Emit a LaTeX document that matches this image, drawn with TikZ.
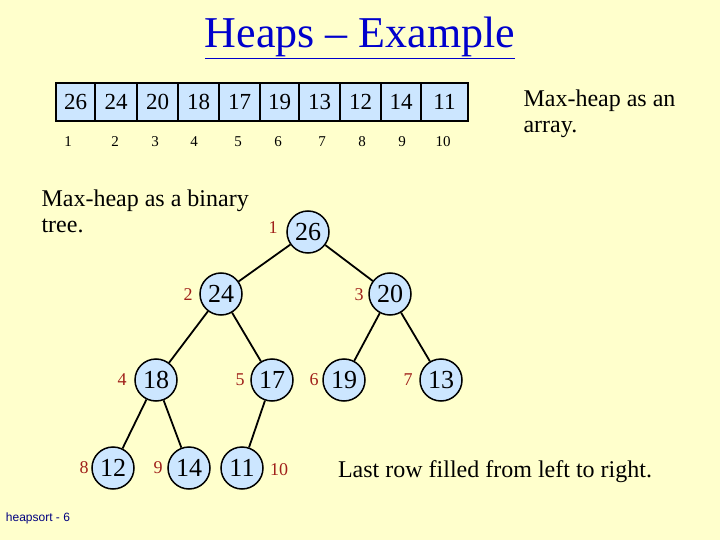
\documentclass[tikz,border=0pt]{standalone}
\usepackage{fontspec}
\setmainfont{Liberation Serif}
\newfontfamily\sansf{Liberation Sans}
\begin{document}
\begin{tikzpicture}[x=1pt,y=-1pt,
  cell/.style={draw=black,line width=1.8pt,fill=cellblue,minimum height=38pt,inner sep=0pt,font=\fontsize{23}{23}\selectfont},
  idx/.style={font=\fontsize{15}{15}\selectfont},
  hn/.style={circle,draw=black,line width=1.5pt,fill=cellblue,minimum size=42pt,inner sep=0pt,font=\fontsize{26}{26}\selectfont},
  lab/.style={text=labred,font=\fontsize{18}{18}\selectfont},
  edge/.style={line width=1.8pt},
  txt/.style={font=\fontsize{24}{26}\selectfont,align=left}]
\definecolor{cellblue}{HTML}{CCE6FF}
\definecolor{labred}{HTML}{A0201A}
\definecolor{bg}{HTML}{FFFFCC}
\fill[bg] (0,0) rectangle (720,540);
\useasboundingbox (0,0) rectangle (720,540);
\node[text=blue!80!black,font=\fontsize{44}{44}\selectfont] (title) at (360,38) {\underline{Heaps – Example}};
% array
\foreach \a/\b/\v [count=\i] in {56/95/26,95/137/24,137/178/20,178/219/18,219/260/17,260/299/19,299/340/13,340/381/12,381/421/14,421/468/11}{
  \node[cell,minimum width={\b-\a}] (c\i) at ({(\a+\b)/2},102) {\v};
}
\foreach \x [count=\i] in {68,115,155,194,238,278,322,362,402,443}{
  \node[idx] (i\i) at (\x,142) {\i};
}
\node[txt,anchor=north west] (t1) at (520,86) {Max-heap as an\\array.};
\node[txt,anchor=north west] (t2) at (38,186) {Max-heap as a binary\\tree.};
\node[txt] (t3) at (495,472) {Last row filled from left to right.};
\node[text=blue!50!black,font=\sansf\fontsize{12}{12}\selectfont] (foot) at (38,518) {heapsort - 6};
% tree
\node[hn] (n1) at (308,232) {26};
\node[hn] (n2) at (221,294) {24};
\node[hn] (n3) at (390,294) {20};
\node[hn] (n4) at (156,380) {18};
\node[hn] (n5) at (272,380) {17};
\node[hn] (n6) at (344,380) {19};
\node[hn] (n7) at (441,380) {13};
\node[hn] (n8) at (113,468) {12};
\node[hn] (n9) at (189,468) {14};
\node[hn] (n10) at (242,468) {11};
\foreach \p/\c in {1/2,1/3,2/4,2/5,3/6,3/7,4/8,4/9,5/10}{
  \draw[edge] (n\p) -- (n\c);
}
\foreach \x/\y [count=\i] in {273/228,188/295,359/295,122/380,240/380,314/380,408/380,84/468,158/468,279/470}{
  \node[lab] (l\i) at (\x,\y) {\i};
}
\end{tikzpicture}
\end{document}
